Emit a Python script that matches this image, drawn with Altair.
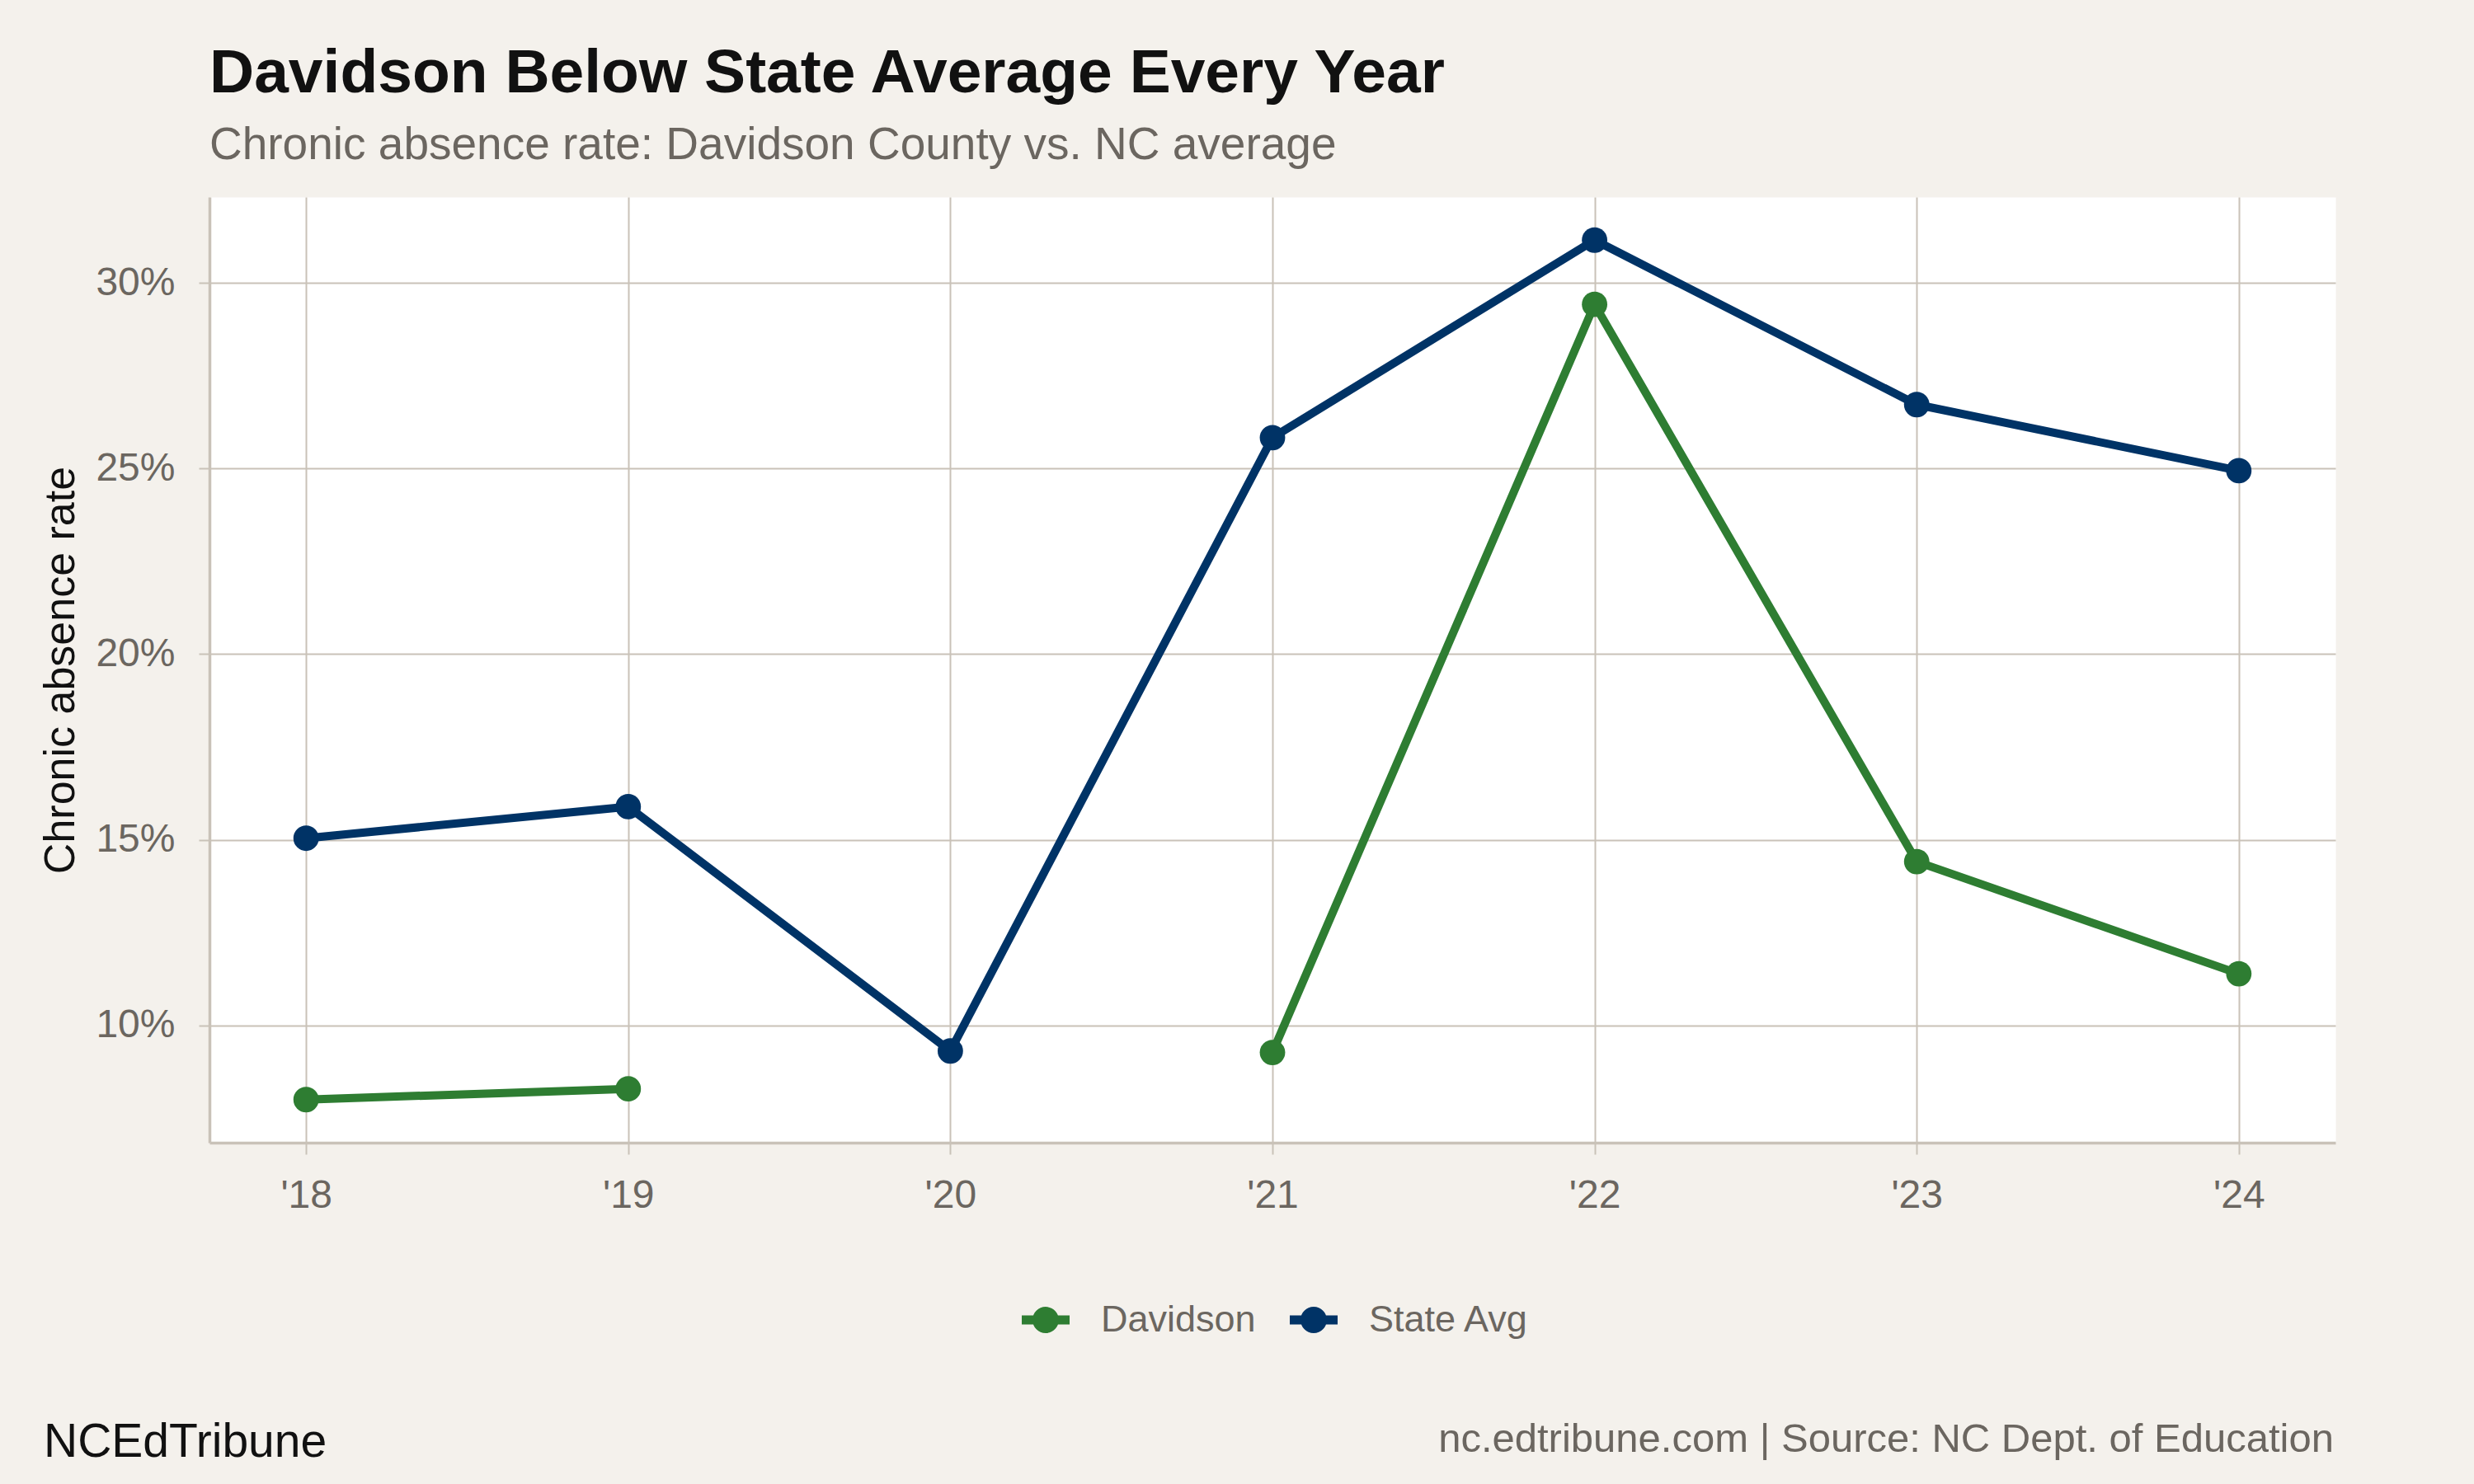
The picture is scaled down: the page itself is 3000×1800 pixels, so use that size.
import altair as alt
import pandas as pd

# Chronic absence rate (%), school years ending 2018-2024
years = [2018, 2019, 2020, 2021, 2022, 2023, 2024]
davidson = [8.0, 8.29, None, 9.27, 29.42, 14.41, 11.39]
state_avg = [15.04, 15.89, 9.31, 25.83, 31.15, 26.72, 24.94]

series_names = ["Davidson", "State Avg"]
series_colors = ["#2E7D32", "#003366"]
y_ticks = [10, 15, 20, 25, 30]

FONT = "Liberation Sans"
GRAY = "#6B6660"
GRID = "#C9C2B8"
W, H = 2578, 1147

# Long table; a missing year starts a new path segment so the line breaks there
rows = []
for name, vals in zip(series_names, [davidson, state_avg]):
    seg = 0
    for yr, v in zip(years, vals):
        if v is None:
            seg += 1
            continue
        rows.append({"year": yr, "rate": v, "series": name, "segment": f"{name}-{seg}"})
df = pd.DataFrame(rows)

x_enc = alt.X(
    "year:Q",
    scale=alt.Scale(domain=[2017.7, 2024.3], nice=False, zero=False),
    axis=alt.Axis(
        values=years,
        labelExpr="\"'\" + substring(toString(datum.value), 2)",
        title=None,
        tickSize=14,
        labelPadding=26,
    ),
)
y_enc = alt.Y(
    "rate:Q",
    scale=alt.Scale(domain=[6.84, 32.31], nice=False, zero=False),
    axis=alt.Axis(
        values=y_ticks,
        labelExpr="datum.value + '%'",
        title="Chronic absence rate",
        tickSize=13,
        labelPadding=29,
        titleX=-165,
        titleY=H / 2,
        titleAngle=270,
        titleAlign="center",
        titleBaseline="alphabetic",
        titleFontSize=52,
        titleFontWeight="normal",
        titleColor="#111111",
        titleFont=FONT,
    ),
)
color_scale = alt.Scale(domain=series_names, range=series_colors)

# Legend glyph: a short bar with a dot in the middle
legend_symbol = (
    "M-1,-0.19L1,-0.19L1,0.19L-1,0.19Z "
    "M-0.55,0A0.55,0.55,0,1,1,0.55,0A0.55,0.55,0,1,1,-0.55,0Z"
)

base = alt.Chart(df)

lines = base.mark_line(strokeWidth=10, strokeJoin="round").encode(
    x=x_enc,
    y=y_enc,
    color=alt.Color("series:N", scale=color_scale, legend=None),
    detail="segment:N",
)

points = base.mark_point(filled=True, size=950, opacity=1).encode(
    x=x_enc,
    y=y_enc,
    color=alt.Color(
        "series:N",
        scale=color_scale,
        legend=alt.Legend(
            orient="none",
            legendX=985,
            legendY=1333,
            direction="horizontal",
            columns=2,
            title=None,
            symbolType=legend_symbol,
            symbolSize=3364,
            symbolStrokeWidth=0,
            symbolOpacity=1,
            labelFont=FONT,
            labelFontSize=45,
            labelColor=GRAY,
            labelOffset=38,
            labelLimit=0,
            columnPadding=41,
        ),
    ),
)

one = alt.Data(values=[{}])

title = alt.Chart(one).mark_text(
    text="Davidson Below State Average Every Year",
    align="left", baseline="alphabetic",
    font=FONT, fontSize=75, fontWeight="bold", color="#111111",
).encode(x=alt.value(0), y=alt.value(-127))

subtitle = alt.Chart(one).mark_text(
    text="Chronic absence rate: Davidson County vs. NC average",
    align="left", baseline="alphabetic",
    font=FONT, fontSize=55, color=GRAY,
).encode(x=alt.value(0), y=alt.value(-46))

brand = alt.Chart(one).mark_text(
    text="NCEdTribune",
    align="left", baseline="alphabetic",
    font=FONT, fontSize=57, color="#111111",
).encode(x=alt.value(-201), y=alt.value(1528))

source = alt.Chart(one).mark_text(
    text="nc.edtribune.com | Source: NC Dept. of Education",
    align="right", baseline="alphabetic",
    font=FONT, fontSize=49, color=GRAY,
).encode(x=alt.value(2576), y=alt.value(1522))

chart = (
    alt.layer(lines, points, title, subtitle, brand, source)
    .resolve_legend(color="independent")
    .properties(
        width=W,
        height=H,
        autosize=alt.AutoSizeParams(type="none"),
        padding={"left": 254, "top": 239, "right": 168, "bottom": 414},
        background="#F4F1EC",
    )
    .configure_view(fill="white", stroke="transparent")
    .configure_axis(
        labelFont=FONT,
        labelFontSize=48,
        labelColor=GRAY,
        gridColor=GRID,
        gridWidth=2,
        domainColor=GRID,
        domainWidth=3.5,
        tickColor=GRID,
        tickWidth=2,
    )
)

chart.save("out.html", embed_options={"renderer": "svg", "actions": False})
